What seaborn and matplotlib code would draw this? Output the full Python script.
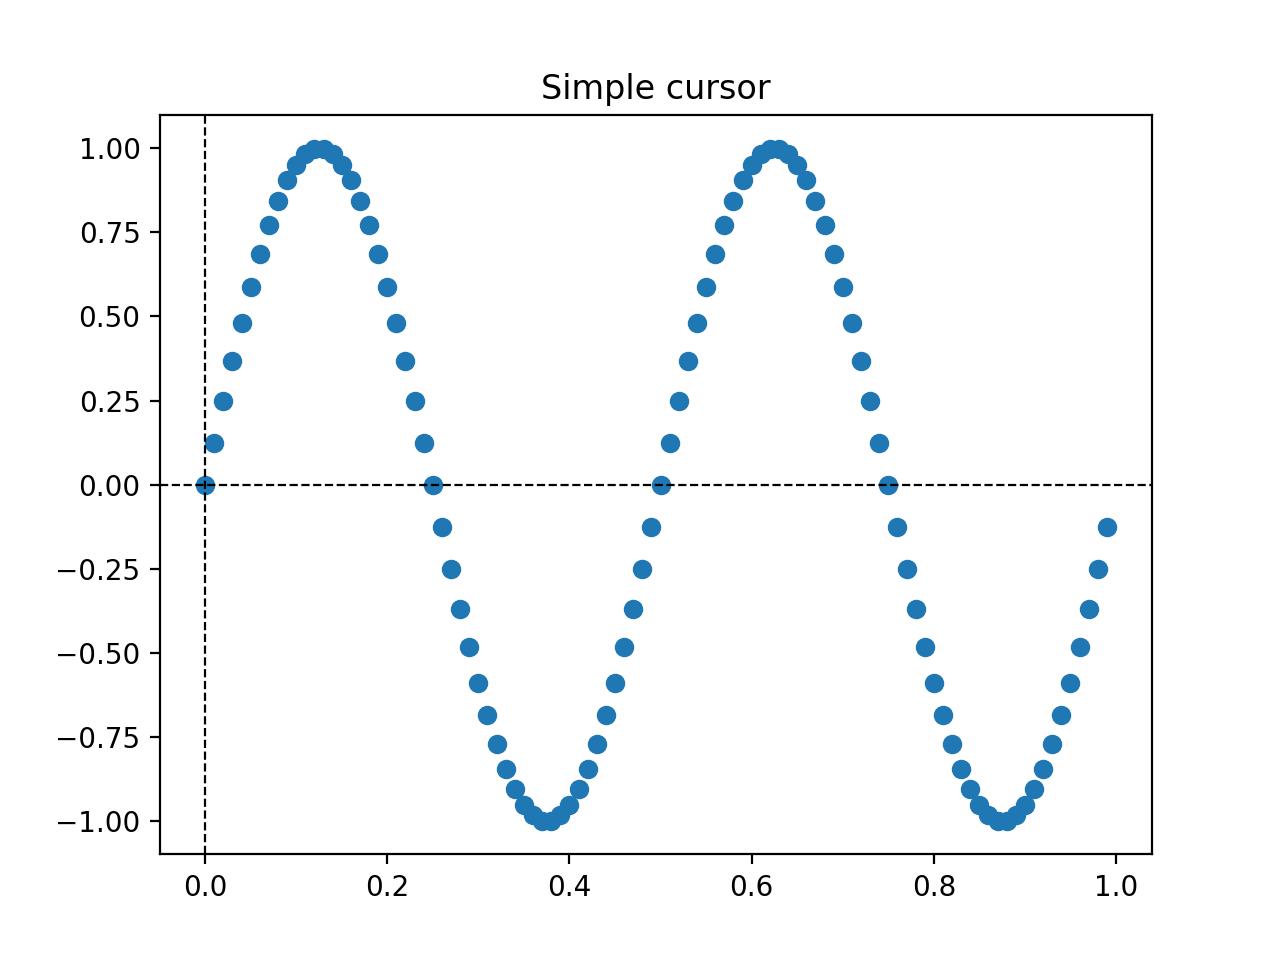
import matplotlib
matplotlib.use("Agg")
import matplotlib.pyplot as plt
import seaborn as sns
import pandas as pd

x_values = [
    0.00, 0.01, 0.02, 0.03, 0.04, 0.05, 0.06, 0.07, 0.08, 0.09,
    0.10, 0.11, 0.12, 0.13, 0.14, 0.15, 0.16, 0.17, 0.18, 0.19,
    0.20, 0.21, 0.22, 0.23, 0.24, 0.25, 0.26, 0.27, 0.28, 0.29,
    0.30, 0.31, 0.32, 0.33, 0.34, 0.35, 0.36, 0.37, 0.38, 0.39,
    0.40, 0.41, 0.42, 0.43, 0.44, 0.45, 0.46, 0.47, 0.48, 0.49,
    0.50, 0.51, 0.52, 0.53, 0.54, 0.55, 0.56, 0.57, 0.58, 0.59,
    0.60, 0.61, 0.62, 0.63, 0.64, 0.65, 0.66, 0.67, 0.68, 0.69,
    0.70, 0.71, 0.72, 0.73, 0.74, 0.75, 0.76, 0.77, 0.78, 0.79,
    0.80, 0.81, 0.82, 0.83, 0.84, 0.85, 0.86, 0.87, 0.88, 0.89,
    0.90, 0.91, 0.92, 0.93, 0.94, 0.95, 0.96, 0.97, 0.98, 0.99,
]

y_values = [
    0.00, 0.125, 0.249, 0.368, 0.482, 0.588, 0.685, 0.771, 0.844, 0.905,
    0.951, 0.982, 0.998, 0.998, 0.982, 0.951, 0.905, 0.844, 0.771, 0.685,
    0.588, 0.482, 0.368, 0.249, 0.125, 0.00, -0.125, -0.249, -0.368, -0.482,
    -0.588, -0.685, -0.771, -0.844, -0.905, -0.951, -0.982, -0.998, -0.998, -0.982,
    -0.951, -0.905, -0.844, -0.771, -0.685, -0.588, -0.482, -0.368, -0.249, -0.125,
    0.00, 0.125, 0.249, 0.368, 0.482, 0.588, 0.685, 0.771, 0.844, 0.905,
    0.951, 0.982, 0.998, 0.998, 0.982, 0.951, 0.905, 0.844, 0.771, 0.685,
    0.588, 0.482, 0.368, 0.249, 0.125, 0.00, -0.125, -0.249, -0.368, -0.482,
    -0.588, -0.685, -0.771, -0.844, -0.905, -0.951, -0.982, -0.998, -0.998, -0.982,
    -0.951, -0.905, -0.844, -0.771, -0.685, -0.588, -0.482, -0.368, -0.249, -0.125,
]

cursor_x = 0.0
cursor_y = 0.0

df = pd.DataFrame({"x": x_values, "y": y_values})

fig, ax = plt.subplots(figsize=(6.4, 4.8), dpi=200)
sns.scatterplot(data=df, x="x", y="y", ax=ax, color="#1f77b4", s=36,
                linewidth=1.0, edgecolor="#1f77b4", marker="o")
ax.axhline(cursor_y, color="k", lw=0.8, ls="--")
ax.axvline(cursor_x, color="k", lw=0.8, ls="--")
ax.set_title("Simple cursor")
ax.set_xlabel("")
ax.set_ylabel("")
ax.set_xticks([0.0, 0.2, 0.4, 0.6, 0.8, 1.0])
ax.set_yticks([-1.0, -0.75, -0.5, -0.25, 0.0, 0.25, 0.5, 0.75, 1.0])
ax.set_xlim(-0.0495, 1.0395)
ax.set_ylim(-1.0978, 1.0978)
fig.savefig("out.png", dpi=200)
